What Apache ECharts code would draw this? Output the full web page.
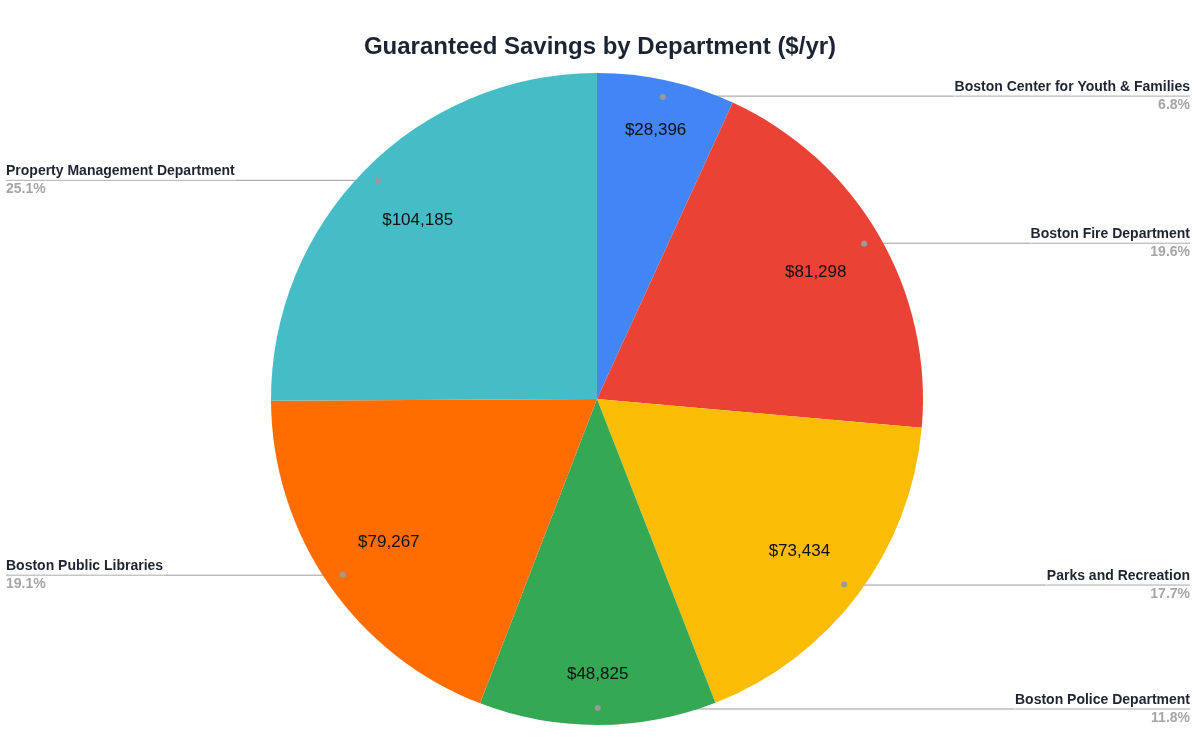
<!DOCTYPE html>
<html lang="en">
<head>
  <meta charset="UTF-8">
  <title>Guaranteed Savings by Department</title>
  <script src="https://cdn.jsdelivr.net/npm/echarts@6/dist/echarts.min.js"></script>
  <style>
    html, body { margin: 0; padding: 0; background: #fff; }
  </style>
</head>
<body>
<div id="main" style="width:1200px;height:756px;"></div>
<script type="text/javascript">
  // data (clockwise from 12 o'clock)
  var departments = ['Boston Center for Youth & Families', 'Boston Fire Department', 'Parks and Recreation',
    'Boston Police Department', 'Boston Public Libraries', 'Property Management Department'];
  var savings = [28396, 81298, 73434, 48825, 79267, 104185];
  var colors = ['#4285f4', '#ea4335', '#fbbc04', '#34a853', '#ff6d01', '#46bdc6'];

  var font = 'Liberation Sans, Arial, sans-serif';
  var center = [597, 399];
  var total = savings.reduce(function (a, b) { return a + b; }, 0);

  var pieData = departments.map(function (d, i) {
    return { name: d, value: savings[i] };
  });

  // small slices get their $ label pushed further out, like the original
  function valueData(small) {
    return pieData.map(function (d) {
      var isSmall = d.value / total < 0.12;
      return { name: d.name, value: d.value, label: { show: isSmall === small } };
    });
  }

  var valueLabel = {
    show: true,
    position: 'inside',
    fontFamily: font,
    fontSize: 17,
    color: '#111',
    formatter: function (p) { return '$' + p.value.toLocaleString('en-US'); }
  };

  var myChart = echarts.init(document.getElementById('main'));

  var option = {
    color: colors,
    animation: false,
    title: {
      text: 'Guaranteed Savings by Department ($/yr)',
      left: 'center',
      top: 30,
      textStyle: { fontFamily: font, fontSize: 24, fontWeight: 'bold', color: '#1b2433' }
    },
    series: [
      // coloured slices
      {
        type: 'pie',
        center: center,
        radius: 326,
        startAngle: 90,
        silent: true,
        label: { show: false },
        labelLine: { show: false },
        itemStyle: { borderWidth: 0 },
        data: pieData
      },
      // $ values inside the bigger slices
      {
        type: 'pie',
        center: center,
        radius: [190, 310],
        startAngle: 90,
        silent: true,
        itemStyle: { color: 'transparent' },
        label: valueLabel,
        data: valueData(false)
      },
      // $ values inside the small slices
      {
        type: 'pie',
        center: center,
        radius: [230, 314],
        startAngle: 90,
        silent: true,
        itemStyle: { color: 'transparent' },
        label: valueLabel,
        data: valueData(true)
      },
      // little dots where the leader lines start
      {
        type: 'pie',
        center: center,
        radius: [300, 312],
        startAngle: 90,
        silent: true,
        itemStyle: { color: 'transparent' },
        label: {
          show: true,
          position: 'inside',
          formatter: ' ',
          fontSize: 1,
          lineHeight: 1,
          padding: 0,
          width: 6,
          height: 6,
          borderRadius: 3,
          backgroundColor: '#9a9a9a'
        },
        data: pieData
      },
      // names + percentages at the chart edges
      {
        type: 'pie',
        center: [center[0] + 2, center[1]],
        radius: 310,
        startAngle: 90,
        silent: true,
        left: -2, right: 2, top: 0, bottom: 0,
        itemStyle: { color: 'transparent' },
        labelLine: {
          show: true,
          length: 0,
          length2: 10,
          lineStyle: { color: '#9a9a9a', width: 1 }
        },
        label: {
          show: true,
          position: 'outside',
          alignTo: 'edge',
          edgeDistance: 8,
          distanceToLabelLine: 0,
          formatter: function (p) {
            var pct = (p.value / total * 100).toFixed(1);
            return '{name|' + p.name + '}\n{hr|}\n{pct|' + pct + '%}';
          },
          rich: {
            name: { fontFamily: font, fontSize: 14, fontWeight: 'bold', color: '#1f2430', lineHeight: 18 },
            hr: { borderColor: '#9a9a9a', borderWidth: 0.5, width: '100%', height: 0 },
            pct: { fontFamily: font, fontSize: 14, fontWeight: 'bold', color: '#a6a6a6', lineHeight: 18 }
          }
        },
        data: pieData
      }
    ]
  };

  myChart.setOption(option);
</script>
</body>
</html>
